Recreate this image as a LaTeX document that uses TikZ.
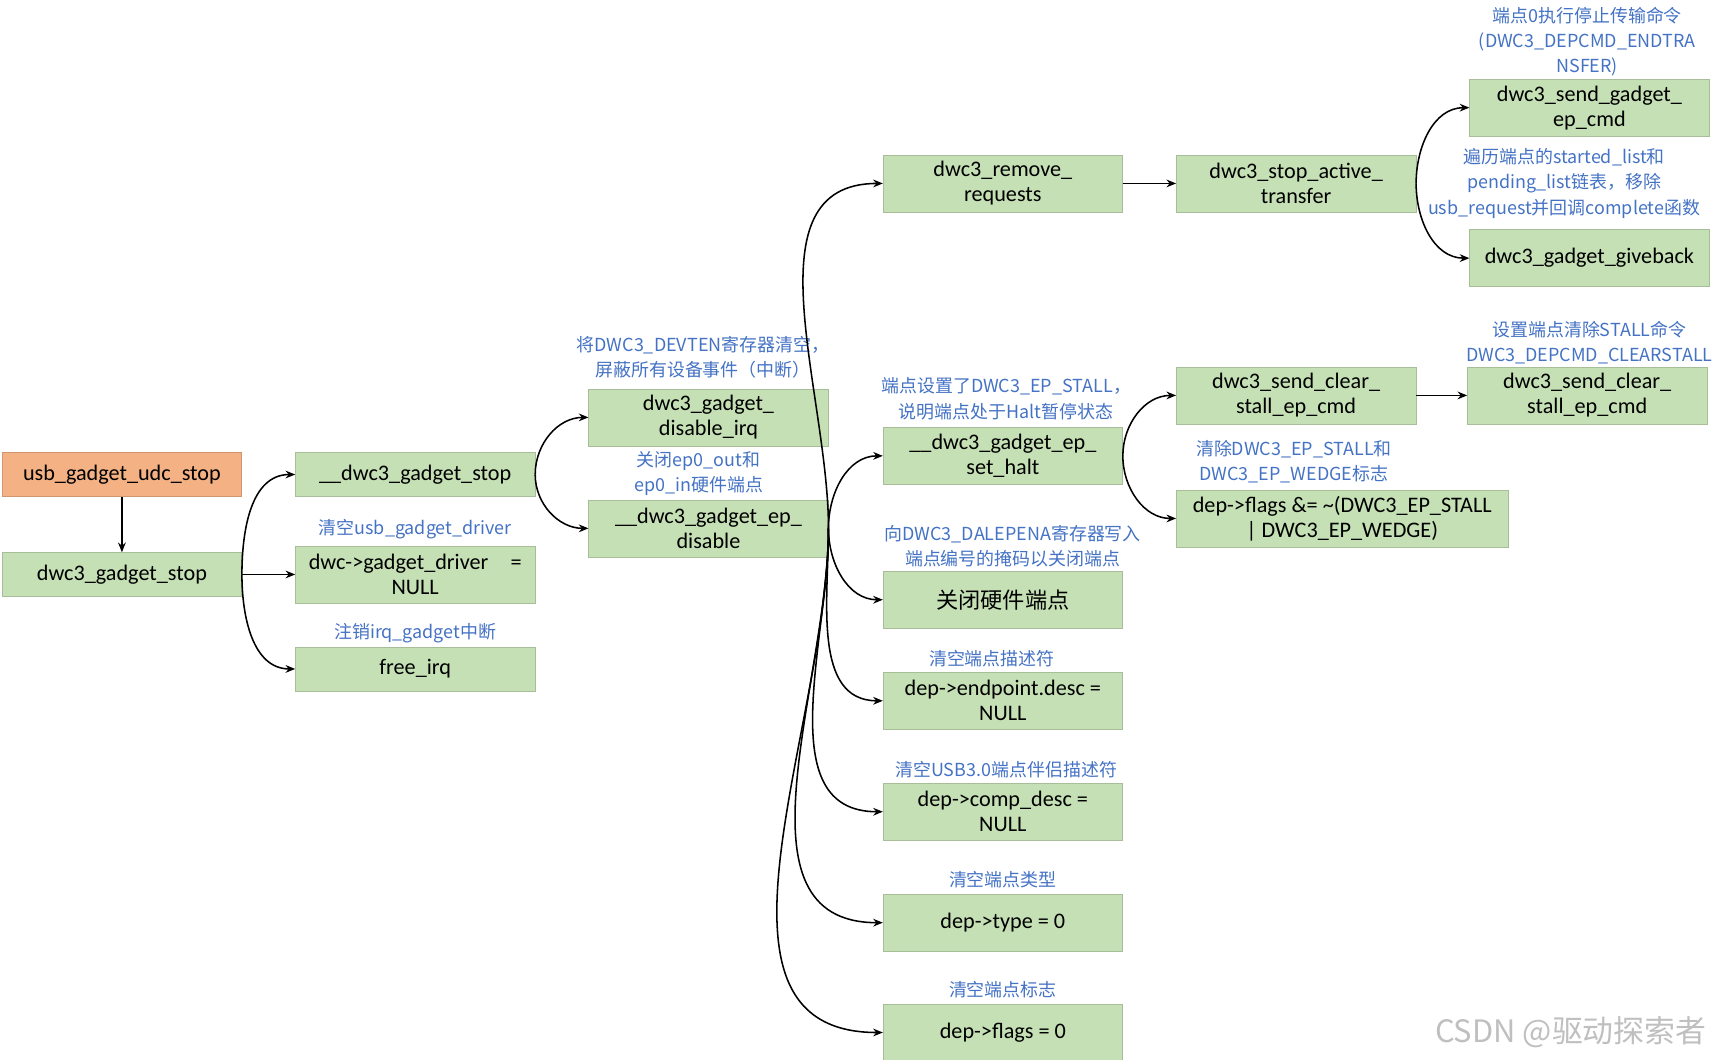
\documentclass[tikz,border=0pt]{standalone}
\usepackage{fontspec}
\setmainfont{Carlito}
\newfontfamily\cjk{Noto Sans CJK SC}
\usetikzlibrary{arrows.meta}
\definecolor{boxgreen}{HTML}{C5E0B4}
\definecolor{boxorange}{HTML}{F4B183}
\definecolor{notblue}{HTML}{4472C4}
\begin{document}
\begin{tikzpicture}[x=0.02cm,y=-0.02cm]
  \useasboundingbox (0,0) rectangle (1565,965);
  \tikzset{
    fn/.style={fill=boxgreen, draw=boxgreen!85!black, line width=0.3pt, minimum width=4.36cm,
      minimum height=1.04cm, align=center, inner sep=1pt, font=\fontsize{11.5}{13}\selectfont},
    note/.style={text=notblue, align=center, font=\cjk\fontsize{9.3}{13}\selectfont},
  }
  \begin{scope}[every node/.style={fn}]
    \node[fill=boxorange, draw=boxorange!85!black, minimum height=0.8cm] (udcstop) at (111,432) {usb\_gadget\_udc\_stop};
    \node[minimum height=0.8cm] (gstop) at (111,523) {dwc3\_gadget\_stop};
    \node[minimum height=0.8cm] (igstop) at (378,432) {\_\_dwc3\_gadget\_stop};
    \node (drvnull) at (378,523) {dwc->gadget\_driver\quad =\\NULL};
    \node[minimum height=0.8cm] (freeirq) at (378,609) {free\_irq};
    \node (disirq) at (645,380) {dwc3\_gadget\_\\disable\_irq};
    \node (epdis) at (645,481) {\_\_dwc3\_gadget\_ep\_\\disable};
    \node (rmreq) at (913,167) {dwc3\_remove\_\\requests};
    \node (stopxfer) at (1180,167) {dwc3\_stop\_active\_\\transfer};
    \node (epcmd) at (1447,98) {dwc3\_send\_gadget\_\\ep\_cmd};
    \node (giveback) at (1447,235) {dwc3\_gadget\_giveback};
    \node (sethalt) at (913,415) {\_\_dwc3\_gadget\_ep\_\\set\_halt};
    \node (clrstall) at (1180,360) {dwc3\_send\_clear\_\\stall\_ep\_cmd};
    \node (clrcmd) at (1445,360) {dwc3\_send\_clear\_\\stall\_ep\_cmd};
    \node[minimum width=6.04cm] (clrflags) at (1222,472) {dep->flags \&= \textasciitilde(DWC3\_EP\_STALL\\| DWC3\_EP\_WEDGE)};
    \node[font=\cjk\fontsize{11.5}{13}\selectfont] (hwoff) at (913,546) {关闭硬件端点};
    \node (desc) at (913,638) {dep->endpoint.desc =\\NULL};
    \node (compdesc) at (913,739) {dep->comp\_desc =\\NULL};
    \node (eptype) at (913,840) {dep->type = 0};
    \node (epflags) at (913,940) {dep->flags = 0};
  \end{scope}
  \begin{scope}[every node/.style={note}]
    \node (n1) at (640,325) {将DWC3\_DEVTEN寄存器清空，\\屏蔽所有设备事件（中断）};
    \node (n2) at (636,431) {关闭ep0\_out和\\ep0\_in硬件端点};
    \node (n3) at (378,482) {清空usb\_gadget\_driver};
    \node (n4) at (378,576) {注销irq\_gadget中断};
    \node (n5) at (1445,38) {端点0执行停止传输命令\\(DWC3\_DEPCMD\_ENDTRA\\NSFER)};
    \node (n6) at (1424,167) {遍历端点的started\_list和\\pending\_list链表，移除\\usb\_request并回调complete函数};
    \node (n7) at (1447,312) {设置端点清除STALL命令\\DWC3\_DEPCMD\_CLEARSTALL};
    \node (n8) at (916,363) {端点设置了DWC3\_EP\_STALL，\\说明端点处于Halt暂停状态};
    \node (n9) at (1178,420) {清除DWC3\_EP\_STALL和\\DWC3\_EP\_WEDGE标志};
    \node (n10) at (922,497) {向DWC3\_DALEPENA寄存器写入\\端点编号的掩码以关闭端点};
    \node (n11) at (903,600) {清空端点描述符};
    \node (n12) at (916,701) {清空USB3.0端点伴侣描述符};
    \node (n13) at (913,801) {清空端点类型};
    \node (n14) at (913,901) {清空端点标志};
  \end{scope}
  \node[text=black!25, font=\cjk\fontsize{16}{18}\selectfont] (mark) at (1430,940) {CSDN @驱动探索者};
  \begin{scope}[every edge/.style={draw=black, line width=0.8pt, -{Stealth[length=5pt,width=4pt]}}]
    \path (udcstop) edge (gstop);
    \path (gstop.east) edge[out=90,in=180] (igstop.west);
    \path (gstop.east) edge (drvnull.west);
    \path (gstop.east) edge[out=-90,in=180] (freeirq.west);
    \path (igstop.east) edge[out=90,in=180] (disirq.west);
    \path (igstop.east) edge[out=-90,in=180] (epdis.west);
    \path (epdis.east) edge[out=90,in=180] (rmreq.west);
    \path (epdis.east) edge[out=90,in=180] (sethalt.west);
    \path (epdis.east) edge[out=-90,in=180] (hwoff.west);
    \path (epdis.east) edge[out=-90,in=180] (desc.west);
    \path (epdis.east) edge[out=-90,in=180] (compdesc.west);
    \path (epdis.east) edge[out=-90,in=180] (eptype.west);
    \path (epdis.east) edge[out=-90,in=180] (epflags.west);
    \path (rmreq) edge (stopxfer);
    \path (stopxfer.east) edge[out=90,in=180] (epcmd.west);
    \path (stopxfer.east) edge[out=-90,in=180] (giveback.west);
    \path (sethalt.east) edge[out=90,in=180] (clrstall.west);
    \path (sethalt.east) edge[out=-90,in=180] (clrflags.west);
    \path (clrstall) edge (clrcmd);
  \end{scope}
\end{tikzpicture}
\end{document}
